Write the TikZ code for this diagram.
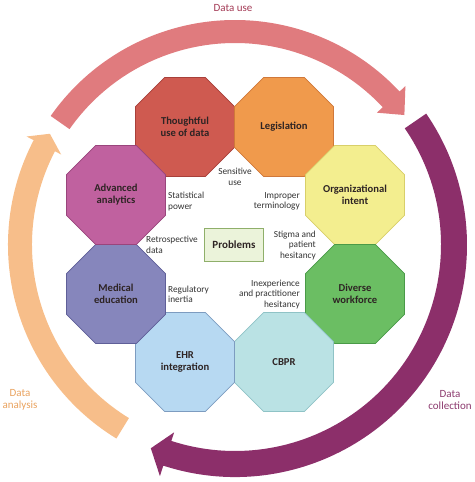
\documentclass[tikz,border=0pt]{standalone}
\usepackage{fontspec}
\setmainfont{Carlito}
\usetikzlibrary{shapes.geometric}
\definecolor{cT}{HTML}{CF5A50}\definecolor{bT}{HTML}{A8403A}
\definecolor{cL}{HTML}{F09A4C}\definecolor{bL}{HTML}{D0783A}
\definecolor{cO}{HTML}{F3EE8F}\definecolor{bO}{HTML}{D8CF6A}
\definecolor{cD}{HTML}{6BBE63}\definecolor{bD}{HTML}{4A9A48}
\definecolor{cC}{HTML}{BAE2E4}\definecolor{bC}{HTML}{8FC3C6}
\definecolor{cE}{HTML}{B7D9F2}\definecolor{bE}{HTML}{7D9CC0}
\definecolor{cM}{HTML}{8686BC}\definecolor{bM}{HTML}{5F5F98}
\definecolor{cA}{HTML}{C0619F}\definecolor{bA}{HTML}{99457C}
\definecolor{octtext}{HTML}{2E2424}
\definecolor{lbltext}{HTML}{333333}
\definecolor{pinkarc}{HTML}{E07B7E}
\definecolor{purparc}{HTML}{8C2F6A}
\definecolor{orarc}{HTML}{F7BE8A}
\definecolor{usetext}{HTML}{A33A55}
\definecolor{coltext}{HTML}{8C3A6E}
\definecolor{anatext}{HTML}{E9A25E}
\definecolor{probfill}{HTML}{EBF3DA}
\definecolor{probdraw}{HTML}{8FAF6A}
\begin{document}
\begin{tikzpicture}[x=1pt,y=1pt,
  oct/.style={regular polygon, regular polygon sides=8, minimum size=107pt,
    inner sep=1pt, line width=0.7pt, align=center,
    font=\fontsize{10.6}{12}\selectfont\bfseries, text=octtext},
  lbl/.style={inner sep=0pt, font=\fontsize{9.3}{10.5}\selectfont, text=lbltext},
  cyc/.style={inner sep=0pt, align=center, font=\fontsize{11}{12}\selectfont}]
\useasboundingbox (0,0) rectangle (474,-482);
\coordinate (O) at (235,-245);
% cycle arrows
\fill[pinkarc] ([shift={(O)}]145:202) arc[start angle=145, end angle=43, radius=202]
  -- ([shift={(O)}]43:194) -- ([shift={(O)}]37.5:213.5) -- ([shift={(O)}]43:233)
  -- ([shift={(O)}]43:225) arc[start angle=43, end angle=145, radius=225] -- cycle;
\fill[purparc] ([shift={(O)}]34.5:206) arc[start angle=34.5, end angle=-108, radius=206]
  -- ([shift={(O)}]-108:197) -- ([shift={(O)}]-112.5:220) -- ([shift={(O)}]-108:243)
  -- ([shift={(O)}]-108:232) arc[start angle=-108, end angle=34.5, radius=232] -- cycle;
\fill[orarc] ([shift={(O)}]-121.5:203) arc[start angle=-121.5, end angle=-207.5, radius=203]
  -- ([shift={(O)}]-207.5:196) -- ([shift={(O)}]-211:216) -- ([shift={(O)}]-207.5:235)
  -- ([shift={(O)}]-207.5:227) arc[start angle=-207.5, end angle=-121.5, radius=227] -- cycle;
\node[cyc, text=usetext] (use) at (233,-8) {Data use};
\node[cyc, text=anatext] (ana) at (20,-400) {Data\\analysis};
\node[cyc, text=coltext] (col) at (450,-400) {Data\\collection};
% octagons
\node[oct, fill=cT, draw=bT] (T) at (185,-127) {Thoughtful\\use of data};
\node[oct, fill=cL, draw=bL] (L) at (284,-127) {Legislation};
\node[oct, fill=cO, draw=bO] (Or) at (355,-195) {Organizational\\intent};
\node[oct, fill=cD, draw=bD] (D) at (355,-294) {Diverse\\workforce};
\node[oct, fill=cC, draw=bC] (C) at (284,-362) {CBPR};
\node[oct, fill=cE, draw=bE] (E) at (185,-362) {EHR\\integration};
\node[oct, fill=cM, draw=bM] (M) at (116,-294) {Medical\\education};
\node[oct, fill=cA, draw=bA] (A) at (116,-195) {Advanced\\analytics};
% centre
\node[draw=probdraw, fill=probfill, line width=0.8pt, minimum width=59pt, minimum height=33pt,
  inner sep=0pt, font=\fontsize{11}{12}\selectfont\bfseries, text=octtext] (P) at (234,-244.5) {Problems};
\node[lbl, align=center] (s1) at (235,-177) {Sensitive\\use};
\node[lbl, align=left, anchor=west] (s2) at (168,-201.5) {Statistical\\power};
\node[lbl, align=right, anchor=east] (s3) at (300,-201.5) {Improper\\terminology};
\node[lbl, align=left, anchor=west] (s4) at (146,-245) {Retrospective\\data};
\node[lbl, align=right, anchor=east] (s5) at (316,-245.5) {Stigma and\\patient\\hesitancy};
\node[lbl, align=left, anchor=west] (s6) at (168,-294.5) {Regulatory\\inertia};
\node[lbl, align=right, anchor=east] (s7) at (300,-294.5) {Inexperience\\and practitioner\\hesitancy};
\end{tikzpicture}
\end{document}
